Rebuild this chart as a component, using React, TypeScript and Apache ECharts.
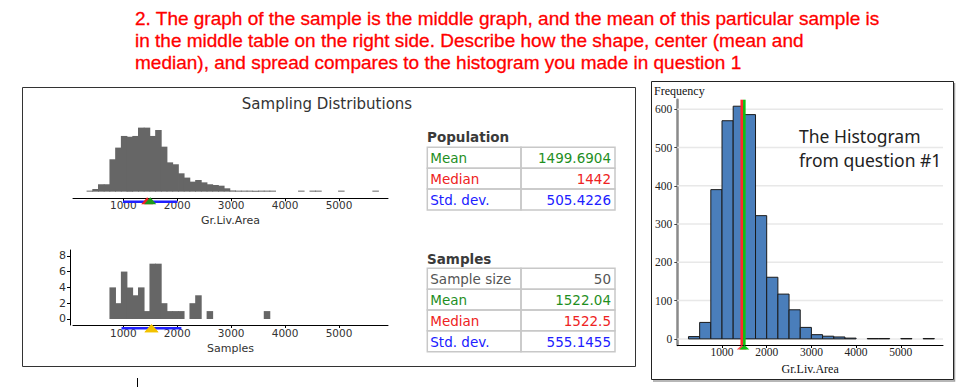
import React, { useEffect, useRef } from 'react';
import * as echarts from 'echarts';

// ---------- data ----------
const questionLines = [
  '2. The graph of the sample is the middle graph, and the mean of this particular sample is',
  'in the middle table on the right side. Describe how the shape, center (mean and',
  'median), and spread compares to the histogram you made in question 1',
];

// population histogram (Gr.Liv.Area), bins of ~106 starting at 319
const popBinStart = 319;
const popBinWidth = 106;
const popCounts = [
  3, 11, 31, 31, 136, 185, 234, 231, 234, 269, 269, 234, 259, 189, 123, 115, 77, 59, 42, 49,
  39, 31, 28, 25, 14, 5, 4, 3, 3, 2, 2, 1, 1, 0, 0, 0, 0, 1, 0, 1, 1, 0, 0, 0, 1, 0, 0, 0, 0, 0, 1,
];

// sample histogram (n = 50), same bins
const sampleCounts = [
  0, 0, 0, 0, 4, 2, 6, 4, 3, 4, 1, 7, 7, 2, 1, 1, 1, 0, 2, 3, 0, 1, 0, 0, 0, 0, 0, 0, 0, 0, 0, 1,
];

// histogram from question #1, bins of 250 starting at 250
const freqBinStart = 250;
const freqBinWidth = 250;
const freqCounts = [6, 43, 390, 570, 608, 586, 322, 161, 117, 76, 30, 11, 7, 5, 2, 0, 1, 1, 0, 1, 0, 1];

const xTicks = [1000, 2000, 3000, 4000, 5000];
const sampleYTicks = [0, 2, 4, 6, 8];
const freqYTicks = [0, 100, 200, 300, 400, 500, 600];

const popMean = 1499.6904;
const popMedian = 1442;
const popSd = 505.4226;
const sampleSize = 50;
const sampleMean = 1522.04;
const sampleMedian = 1522.5;
const sampleSd = 555.1455;

const popRowLabels = ['Mean', 'Median', 'Std. dev.'];
const popRowValues = ['1499.6904', '1442', '505.4226'];
const sampleRowLabels = ['Sample size', 'Mean', 'Median', 'Std. dev.'];
const sampleRowValues = [String(sampleSize), '1522.04', '1522.5', '555.1455'];

// ---------- styling ----------
const SANS = '"DejaVu Sans", Verdana, sans-serif';
const SERIF = '"Liberation Serif", "Times New Roman", serif';
const RED = '#ee2222';
const GREEN = '#1f8f1f';
const BLUE = '#2020ff';
const GRAY_TXT = '#555555';

const POP_X = [67, 5909];
const POP_Y = [-28, 301];
const SAMP_Y = [-0.76, 8.73];
const FREQ_X = [0, 5944];
const FREQ_Y = [-16, 625];

const plain = (v: number) => String(v);

function binData(start: number, width: number, counts: number[]) {
  const out: number[][] = [];
  counts.forEach((c, i) => {
    if (c > 0) out.push([start + i * width, start + (i + 1) * width, c]);
  });
  return out;
}

function histRender(fill: string, stroke: string | null, minH: number) {
  return (params: any, api: any) => {
    const p0 = api.coord([api.value(0), 0]);
    const p1 = api.coord([api.value(1), api.value(2)]);
    let h = p0[1] - p1[1];
    if (h < minH) h = minH;
    const overlap = stroke ? 0 : 0.8;
    return {
      type: 'rect',
      shape: { x: p0[0], y: p0[1] - h, width: p1[0] - p0[0] + overlap, height: h },
      style: stroke ? { fill, stroke, lineWidth: 1 } : { fill },
    };
  };
}

function sdLineRender(yMin: number, dy: number) {
  return (params: any, api: any) => {
    const a = api.coord([api.value(0), yMin]);
    const b = api.coord([api.value(1), yMin]);
    return {
      type: 'line',
      shape: { x1: a[0], y1: a[1] + dy, x2: b[0], y2: b[1] + dy },
      style: { stroke: BLUE, lineWidth: 2.5 },
    };
  };
}

function triRender(yMin: number, colors: string[], up: number, down: number, half: number) {
  return (params: any, api: any) => {
    const c = api.coord([api.value(0), yMin]);
    return {
      type: 'polygon',
      shape: {
        points: [
          [c[0], c[1] - up],
          [c[0] - half, c[1] + down],
          [c[0] + half, c[1] + down],
        ],
      },
      style: { fill: colors[params.dataIndex] },
    };
  };
}

function tableGraphics(x: number, y: number, w: number, splitX: number, rowH: number, labels: string[], values: string[], colors: string[]) {
  const els: any[] = [];
  labels.forEach((lab, i) => {
    const ry = y + i * rowH;
    els.push({
      type: 'rect',
      shape: { x, y: ry, width: splitX - x, height: rowH },
      style: { fill: 'none', stroke: '#c8c8c8', lineWidth: 1.5 },
    });
    els.push({
      type: 'rect',
      shape: { x: splitX, y: ry, width: x + w - splitX, height: rowH },
      style: { fill: 'none', stroke: '#c8c8c8', lineWidth: 1.5 },
    });
    els.push({
      type: 'text',
      x: x + 3,
      y: ry + rowH / 2 + 0.5,
      style: { text: lab, fill: colors[i], font: `13.5px ${SANS}`, verticalAlign: 'middle', align: 'left' },
    });
    els.push({
      type: 'text',
      x: x + w - 4,
      y: ry + rowH / 2 + 0.5,
      style: { text: values[i], fill: colors[i], font: `13.5px ${SANS}`, verticalAlign: 'middle', align: 'right' },
    });
  });
  return els;
}

function buildOption(): any {
  const graphics: any[] = [];
  questionLines.forEach((t, i) => {
    graphics.push({
      type: 'text',
      x: 135,
      y: 18 + i * 22,
      style: {
        text: t,
        fill: '#ff0000',
        font: `19px "Liberation Sans", Arial, sans-serif`,
        verticalAlign: 'middle',
        stroke: '#ff0000',
        lineWidth: 0.3,
      },
    });
  });
  // left panel
  graphics.push({
    type: 'rect',
    shape: { x: 22.5, y: 87.5, width: 613, height: 279 },
    style: { fill: 'none', stroke: '#333', lineWidth: 1 },
  });
  graphics.push({
    type: 'text',
    x: 327,
    y: 104,
    style: { text: 'Sampling Distributions', fill: '#333', font: `15px ${SANS}`, align: 'center', verticalAlign: 'middle' },
  });
  graphics.push({
    type: 'text',
    x: 427,
    y: 137,
    style: { text: 'Population', fill: '#3a3a3a', font: `bold 13.5px ${SANS}`, verticalAlign: 'middle' },
  });
  graphics.push(...tableGraphics(427.3, 147.3, 187.7, 521, 20.9, popRowLabels, popRowValues, [GREEN, RED, BLUE]));
  graphics.push({
    type: 'text',
    x: 427,
    y: 258.5,
    style: { text: 'Samples', fill: '#3a3a3a', font: `bold 13.5px ${SANS}`, verticalAlign: 'middle' },
  });
  graphics.push(...tableGraphics(427.3, 268.3, 187.7, 521, 20.85, sampleRowLabels, sampleRowValues, [GRAY_TXT, GREEN, RED, BLUE]));

  // right panel (frame with a soft shadow on the right and bottom)
  graphics.push({
    type: 'polyline',
    shape: { points: [[954.5, 83], [954.5, 381], [653, 381]] },
    style: { fill: 'none', stroke: '#a0a0a0', lineWidth: 1.5 },
  });
  graphics.push({
    type: 'rect',
    shape: { x: 651.5, y: 81.5, width: 302, height: 298 },
    style: { fill: 'none', stroke: '#222', lineWidth: 1 },
  });
  graphics.push({
    type: 'text',
    x: 654,
    y: 91,
    style: { text: 'Frequency', fill: '#111', font: `12px ${SERIF}`, verticalAlign: 'middle' },
  });
  graphics.push({
    type: 'text',
    x: 799,
    y: 135.5,
    style: { text: 'The Histogram', fill: '#222', font: `17.5px "Noto Sans", "Open Sans", sans-serif`, verticalAlign: 'middle' },
  });
  graphics.push({
    type: 'text',
    x: 799,
    y: 160,
    style: { text: 'from question #1', fill: '#222', font: `17.5px "Noto Sans", "Open Sans", sans-serif`, verticalAlign: 'middle' },
  });
  graphics.push({
    type: 'line',
    shape: { x1: 137.5, y1: 378, x2: 137.5, y2: 387 },
    style: { stroke: '#000', lineWidth: 1 },
  });

  const leftXAxis = (gridIndex: number, name: string, nameGap: number, margin: number) => ({
    type: 'value',
    gridIndex,
    min: POP_X[0],
    max: POP_X[1],
    axisLine: { show: true, onZero: false, lineStyle: { color: '#000', width: 1 } },
    axisTick: { show: true, customValues: xTicks, length: 3, lineStyle: { color: '#000' } },
    axisLabel: { customValues: xTicks, formatter: plain, fontFamily: SANS, fontSize: 10.5, color: '#333', margin },
    splitLine: { show: false },
    name,
    nameLocation: 'middle',
    nameGap,
    nameTextStyle: { fontFamily: SANS, fontSize: 11, color: '#333' },
  });

  return {
    animation: false,
    backgroundColor: '#ffffff',
    graphic: { elements: graphics },
    grid: [
      { left: 73, top: 120, width: 315, height: 78.3 },
      { left: 73, top: 250, width: 315, height: 75 },
      { left: 677.3, top: 99.7, width: 265.7, height: 245.3 },
    ],
    xAxis: [
      leftXAxis(0, 'Gr.Liv.Area', 16.5, 1),
      leftXAxis(1, 'Samples', 17.5, 2.5),
      {
        type: 'value',
        gridIndex: 2,
        min: FREQ_X[0],
        max: FREQ_X[1],
        axisLine: { show: true, onZero: false, lineStyle: { color: '#000', width: 1 } },
        axisTick: { show: true, customValues: xTicks, length: 3, lineStyle: { color: '#000' } },
        axisLabel: { customValues: xTicks, formatter: plain, fontFamily: SERIF, fontSize: 11.5, color: '#222', margin: 1 },
        splitLine: { show: false },
        name: 'Gr.Liv.Area',
        nameLocation: 'middle',
        nameGap: 15.5,
        nameTextStyle: { fontFamily: SERIF, fontSize: 12, color: '#111' },
      },
    ],
    yAxis: [
      { type: 'value', gridIndex: 0, min: POP_Y[0], max: POP_Y[1], show: false },
      {
        type: 'value',
        gridIndex: 1,
        min: SAMP_Y[0],
        max: SAMP_Y[1],
        offset: 3,
        axisLine: { show: true, onZero: false, lineStyle: { color: '#000', width: 1 } },
        axisTick: { show: true, customValues: sampleYTicks, length: 3, lineStyle: { color: '#000' } },
        axisLabel: { customValues: sampleYTicks, formatter: plain, fontFamily: SANS, fontSize: 11, color: '#333', margin: 4 },
        splitLine: { show: false },
      },
      {
        type: 'value',
        gridIndex: 2,
        min: FREQ_Y[0],
        max: FREQ_Y[1],
        axisLine: { show: true, onZero: false, lineStyle: { color: '#8a8a8a', width: 2.5 } },
        axisTick: { show: true, customValues: freqYTicks, length: 3, lineStyle: { color: '#444' } },
        axisLabel: { customValues: freqYTicks, formatter: plain, fontFamily: SERIF, fontSize: 11.5, color: '#222', margin: 5 },
        splitLine: { show: false },
      },
    ],
    series: [
      {
        type: 'custom',
        xAxisIndex: 0,
        yAxisIndex: 0,
        silent: true,
        renderItem: histRender('#666666', null, 1),
        encode: { x: [0, 1], y: 2 },
        data: binData(popBinStart, popBinWidth, popCounts),
        z: 2,
      },
      {
        type: 'custom',
        xAxisIndex: 0,
        yAxisIndex: 0,
        silent: true,
        renderItem: sdLineRender(POP_Y[0], 3.5),
        encode: { x: [0, 1] },
        data: [[popMean - popSd, popMean + popSd]],
        z: 3,
      },
      {
        type: 'custom',
        xAxisIndex: 0,
        yAxisIndex: 0,
        silent: true,
        renderItem: triRender(POP_Y[0], [RED, '#1a9a1a'], 1, 6, 6),
        encode: { x: 0 },
        data: [[popMedian], [popMean]],
        z: 4,
      },
      {
        type: 'custom',
        xAxisIndex: 1,
        yAxisIndex: 1,
        silent: true,
        renderItem: histRender('#666666', null, 1),
        encode: { x: [0, 1], y: 2 },
        data: binData(popBinStart, popBinWidth, sampleCounts),
        z: 2,
      },
      {
        type: 'custom',
        xAxisIndex: 1,
        yAxisIndex: 1,
        silent: true,
        renderItem: sdLineRender(SAMP_Y[0], 3.3),
        encode: { x: [0, 1] },
        data: [[sampleMean - sampleSd, sampleMean + sampleSd]],
        z: 3,
      },
      {
        type: 'custom',
        xAxisIndex: 1,
        yAxisIndex: 1,
        silent: true,
        renderItem: triRender(SAMP_Y[0], ['#f2c200', '#f2c200'], 0.7, 7.3, 7),
        encode: { x: 0 },
        data: [[sampleMedian], [sampleMean]],
        z: 4,
      },
      {
        type: 'custom',
        xAxisIndex: 2,
        yAxisIndex: 2,
        silent: true,
        renderItem: (params: any, api: any) => {
          const a = api.coord([FREQ_X[0], api.value(0)]);
          const b = api.coord([FREQ_X[1], api.value(0)]);
          return {
            type: 'line',
            shape: { x1: a[0], y1: a[1], x2: b[0], y2: b[1] },
            style: { stroke: '#e8e8e8', lineWidth: 1.5 },
          };
        },
        encode: { y: 0 },
        data: freqYTicks.map((v) => [v]),
        z: 1,
      },
      {
        type: 'custom',
        xAxisIndex: 2,
        yAxisIndex: 2,
        silent: true,
        renderItem: histRender('#4a7ebb', '#1a1a1a', 0),
        encode: { x: [0, 1], y: 2 },
        data: binData(freqBinStart, freqBinWidth, freqCounts),
        z: 2,
      },
      {
        type: 'custom',
        xAxisIndex: 2,
        yAxisIndex: 2,
        silent: true,
        renderItem: (params: any, api: any) => {
          const a = api.coord([api.value(0), FREQ_Y[0]]);
          const b = api.coord([api.value(0), FREQ_Y[1]]);
          const col = params.dataIndex === 0 ? '#ff2a2a' : '#10c010';
          return {
            type: 'line',
            shape: { x1: a[0], y1: a[1], x2: b[0], y2: b[1] },
            style: { stroke: col, lineWidth: 2.6 },
          };
        },
        encode: { x: 0 },
        data: [[popMedian], [popMean]],
        z: 3,
      },
      {
        type: 'custom',
        xAxisIndex: 2,
        yAxisIndex: 2,
        silent: true,
        renderItem: triRender(FREQ_Y[0], ['#ff5050', '#10c010'], 0, 4.5, 5),
        encode: { x: 0 },
        data: [[popMedian], [popMean]],
        z: 4,
      },
    ],
  };
}

export default function App() {
  const ref = useRef<HTMLDivElement>(null);
  useEffect(() => {
    document.body.style.margin = '0';
    const chart = echarts.init(ref.current as HTMLDivElement, null, { renderer: 'svg' });
    chart.setOption(buildOption());
    return () => chart.dispose();
  }, []);
  return <div ref={ref} style={{ width: 974, height: 388 }} />;
}
